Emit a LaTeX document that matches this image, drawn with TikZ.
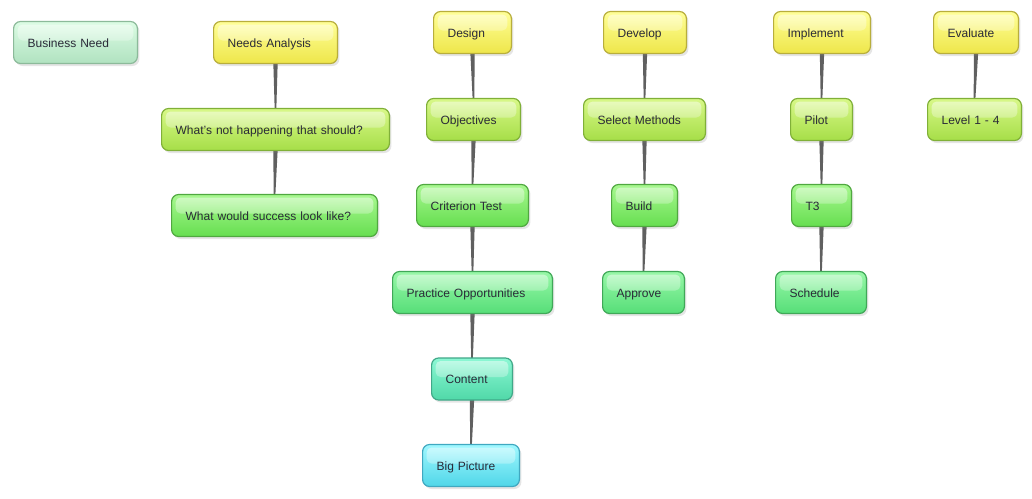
\documentclass[tikz,border=0pt]{standalone}
\usepackage{fontspec}
\setmainfont{Liberation Sans}
\usetikzlibrary{shadows,backgrounds,fadings}
\definecolor{txt}{HTML}{2A2A38}
\definecolor{connc}{HTML}{606060}
\definecolor{bnT}{HTML}{DCFCE4}\definecolor{bnD}{HTML}{B0E2C0}\definecolor{bnB}{HTML}{8CBA9A}
\definecolor{yeT}{HTML}{FFFF98}\definecolor{yeD}{HTML}{EEE64A}\definecolor{yeB}{HTML}{B8AE3C}
\definecolor{laT}{HTML}{D8F888}\definecolor{laD}{HTML}{A6DE48}\definecolor{laB}{HTML}{80B038}
\definecolor{lbT}{HTML}{A8F890}\definecolor{lbD}{HTML}{66DE50}\definecolor{lbB}{HTML}{50A840}
\definecolor{lcT}{HTML}{98F8A8}\definecolor{lcD}{HTML}{56DE78}\definecolor{lcB}{HTML}{40A858}
\definecolor{tlT}{HTML}{8CF8D4}\definecolor{tlD}{HTML}{50D8A8}\definecolor{tlB}{HTML}{40A888}
\definecolor{cyT}{HTML}{A0F8FF}\definecolor{cyD}{HTML}{50D6E8}\definecolor{cyB}{HTML}{40A8C0}
\tikzset{
  bx/.style={rounded corners=7pt, line width=1.2pt, inner xsep=14pt, inner ysep=0pt,
    align=left, font=\fontsize{12}{14}\selectfont, text=txt, minimum height=42pt,
    text height=9pt, text depth=0pt,
    drop shadow={shadow xshift=2pt, shadow yshift=-2.5pt, opacity=0.2},
    path picture={\fill[white,opacity=0.5,path fading=south,rounded corners=5pt]
      ([xshift=4pt,yshift=-3pt]path picture bounding box.north west) rectangle
      ([xshift=-4pt,yshift=-19pt]path picture bounding box.north east);}},
  bn/.style={bx, draw=bnB, top color=bnT, bottom color=bnD},
  ye/.style={bx, draw=yeB, top color=yeT, bottom color=yeD},
  la/.style={bx, draw=laB, top color=laT, bottom color=laD},
  lb/.style={bx, draw=lbB, top color=lbT, bottom color=lbD},
  lc/.style={bx, draw=lcB, top color=lcT, bottom color=lcD},
  tl/.style={bx, draw=tlB, top color=tlT, bottom color=tlD},
  cy/.style={bx, draw=cyB, top color=cyT, bottom color=cyD},
  w/.style={text width=#1pt-29.2pt}
}
\newcommand\conn[2]{\fill[connc] ([xshift=-2.2pt,yshift=2pt]#1.south) -- ([xshift=2.2pt,yshift=2pt]#1.south) -- ([xshift=0.8pt,yshift=-2pt]#2.north) -- ([xshift=-0.8pt,yshift=-2pt]#2.north) -- cycle;}
\begin{document}
\begin{tikzpicture}[x=1pt,y=-1pt]
\useasboundingbox (0,0) rectangle (1032,498);
% column 0
\node[bn,w=125] (bneed) at (75.5,42.5) {\rlap{Business Need}};
% column 1
\node[ye,w=125] (na) at (275.5,42.5) {\rlap{Needs Analysis}};
\node[la,w=229] (wn) at (275.5,129.5) {\rlap{What's not happening that should?}};
\node[lb,w=207] (ws) at (274.5,215.5) {\rlap{What would success look like?}};
% column 2
\node[ye,w=79] (des) at (472.5,32.5) {\rlap{Design}};
\node[la,w=95] (obj) at (473.5,119.5) {\rlap{Objectives}};
\node[lb,w=113] (crit) at (472.5,205.5) {\rlap{Criterion Test}};
\node[lc,w=161] (prac) at (472.5,292.5) {\rlap{Practice Opportunities}};
\node[tl,w=82] (cont) at (472,379) {\rlap{Content}};
\node[cy,w=98] (big) at (471,465.5) {\rlap{Big Picture}};
% column 3
\node[ye,w=84] (dev) at (645,32.5) {\rlap{Develop}};
\node[la,w=123] (sel) at (644.5,119.5) {\rlap{Select Methods}};
\node[lb,w=67] (build) at (644.5,205.5) {\rlap{Build}};
\node[lc,w=83] (appr) at (643.5,292.5) {\rlap{Approve}};
% column 4
\node[ye,w=98] (imp) at (822,32.5) {\rlap{Implement}};
\node[la,w=63] (pilot) at (821.5,119.5) {\rlap{Pilot}};
\node[lb,w=61] (tt) at (821.5,205.5) {\rlap{T3}};
\node[lc,w=92] (sched) at (821,292.5) {\rlap{Schedule}};
% column 5
\node[ye,w=86] (eval) at (976,32.5) {\rlap{Evaluate}};
\node[la,w=95] (lvl) at (974.5,119.5) {\rlap{Level 1 - 4}};
\begin{scope}[on background layer]
\fill[white] (0,0) rectangle (1032,498);
\conn{na}{wn}\conn{wn}{ws}
\conn{des}{obj}\conn{obj}{crit}\conn{crit}{prac}\conn{prac}{cont}\conn{cont}{big}
\conn{dev}{sel}\conn{sel}{build}\conn{build}{appr}
\conn{imp}{pilot}\conn{pilot}{tt}\conn{tt}{sched}
\conn{eval}{lvl}
\end{scope}
\end{tikzpicture}
\end{document}
